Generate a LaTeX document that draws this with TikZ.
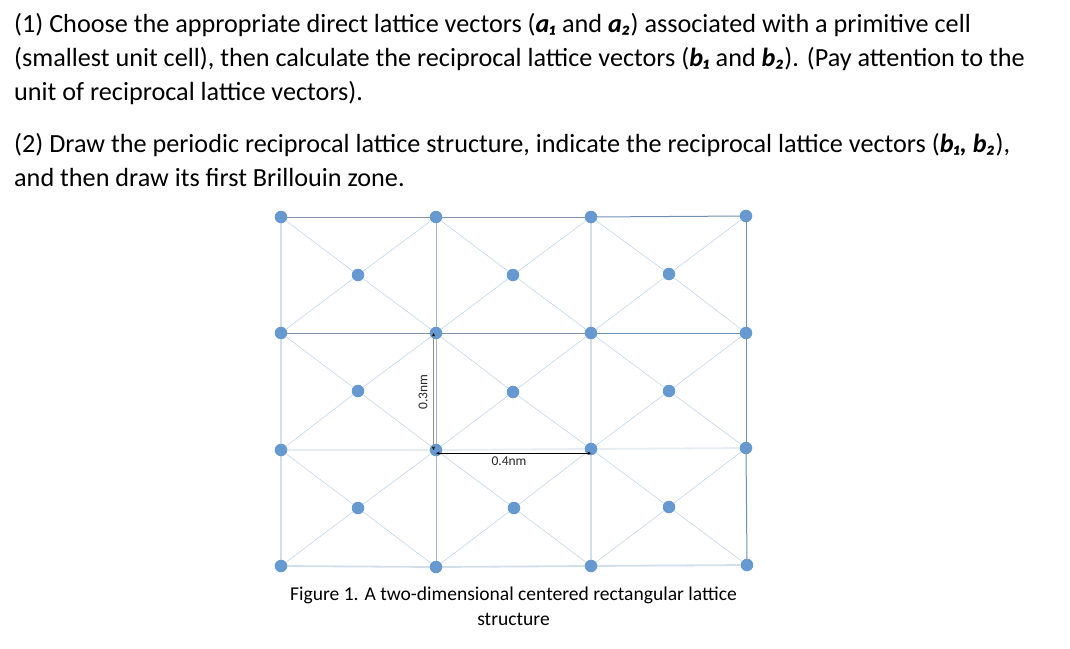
\documentclass[tikz,border=0pt]{standalone}
\usepackage{fontspec}
\setmainfont{Carlito}
\usetikzlibrary{arrows.meta}
\definecolor{dotblue}{HTML}{6699CF}
\definecolor{darkline}{HTML}{7F95AE}
\definecolor{rimline}{HTML}{6F8FB3}
\definecolor{midline}{HTML}{A3B8D0}
\definecolor{paleline}{HTML}{D3DEEB}
\definecolor{faintline}{HTML}{E7ECF3}
\definecolor{crossline}{HTML}{C3D5E9}
\tikzset{
  dot/.style={circle, fill=dotblue, inner sep=0pt, minimum size=12.5pt},
  dark/.style={darkline, line width=1pt},
  rim/.style={rimline, line width=1pt},
  mid/.style={midline, line width=1pt},
  pale/.style={paleline, line width=1.8pt},
  faint/.style={faintline, line width=1.8pt},
  cross/.style={crossline, line width=0.6pt},
  dim/.style={black, line width=0.7pt, {Stealth[length=3.5pt,width=3pt,black]}-{Stealth[length=3.5pt,width=3pt,black]}},
  para/.style={anchor=north west, inner sep=0pt, align=left, font=\fontsize{26.2}{34}\selectfont},
  small/.style={inner sep=0pt, font=\fontsize{13.5}{14}\selectfont, text=black!85},
  caption/.style={inner sep=0pt, align=center, font=\fontsize{19.55}{25}\selectfont}
}
\begin{document}
\begin{tikzpicture}[x=1pt, y=-1pt]
    \useasboundingbox (0,0) rectangle (1070,648);

    \node (t1) at (14,13.5) [para] {(1) Choose the appropriate direct lattice vectors (\textbf{\textit{a₁}} and \textbf{\textit{a₂}}) associated with a primitive cell\\(smallest unit cell), then calculate the reciprocal lattice vectors (\textbf{\textit{b₁}} and \textbf{\textit{b₂}}). (Pay attention to the\\unit of reciprocal lattice vectors).};
    \node (t2) at (14,133.5) [para] {(2) Draw the periodic reciprocal lattice structure, indicate the reciprocal lattice vectors (\textbf{\textit{b₁, b₂}}),\\and then draw its first Brillouin zone.};

    % corner points, row by row
    \coordinate (a1) at (281,217);
    \coordinate (a2) at (436,217);
    \coordinate (a3) at (591,217);
    \coordinate (a4) at (746,216);

    \coordinate (b1) at (281,333);
    \coordinate (b2) at (436,333);
    \coordinate (b3) at (591,333);
    \coordinate (b4) at (746,333);

    \coordinate (c1) at (281,450);
    \coordinate (c2) at (436,450);
    \coordinate (c3) at (591,449);
    \coordinate (c4) at (746,448);

    \coordinate (d1) at (281,566);
    \coordinate (d2) at (436,567);
    \coordinate (d3) at (591,566);
    \coordinate (d4) at (747,565);

    % rows
    \draw[dark] (a1) -- (a2);
    \draw[dark] (a2) -- (a3);
    \draw[rim] (a3) -- (a4);
    \draw[dark] (b1) -- (b2);
    \draw[dark] (b2) -- (b3);
    \draw[rim] (b3) -- (b4);
    \draw[faint] (c1) -- (c2);
    \draw[faint] (c2) -- (c3);
    \draw[faint] (c3) -- (c4);
    \draw[pale] (d1) -- (d2);
    \draw[pale] (d2) -- (d3);
    \draw[pale] (d3) -- (d4);

    % columns
    \draw[pale] (a1) -- (b1);
    \draw[pale] (b1) -- (c1);
    \draw[pale] (c1) -- (d1);
    \draw[mid] (a2) -- (b2);
    \draw[mid] (b2) -- (c2);
    \draw[mid] (c2) -- (d2);
    \draw[pale] (a3) -- (b3);
    \draw[pale] (b3) -- (c3);
    \draw[pale] (c3) -- (d3);
    \draw[rim] (a4) -- (b4);
    \draw[rim] (b4) -- (c4);
    \draw[rim] (c4) -- (d4);

    % centred points
    \node (e1) at (358,275) [dot] {};
    \draw[cross] (e1) -- (a1);
    \draw[cross] (e1) -- (a2);
    \draw[cross] (e1) -- (b1);
    \draw[cross] (e1) -- (b2);

    \node (e2) at (513,275) [dot] {};
    \draw[cross] (e2) -- (a2);
    \draw[cross] (e2) -- (a3);
    \draw[cross] (e2) -- (b2);
    \draw[cross] (e2) -- (b3);

    \node (e3) at (669,274) [dot] {};
    \draw[cross] (e3) -- (a3);
    \draw[cross] (e3) -- (a4);
    \draw[cross] (e3) -- (b3);
    \draw[cross] (e3) -- (b4);

    \node (f1) at (358,391) [dot] {};
    \draw[cross] (f1) -- (b1);
    \draw[cross] (f1) -- (b2);
    \draw[cross] (f1) -- (c1);
    \draw[cross] (f1) -- (c2);

    \node (f2) at (513,392) [dot] {};
    \draw[cross] (f2) -- (b2);
    \draw[cross] (f2) -- (b3);
    \draw[cross] (f2) -- (c2);
    \draw[cross] (f2) -- (c3);

    \node (f3) at (669,391) [dot] {};
    \draw[cross] (f3) -- (b3);
    \draw[cross] (f3) -- (b4);
    \draw[cross] (f3) -- (c3);
    \draw[cross] (f3) -- (c4);

    \node (g1) at (358,508) [dot] {};
    \draw[cross] (g1) -- (c1);
    \draw[cross] (g1) -- (c2);
    \draw[cross] (g1) -- (d1);
    \draw[cross] (g1) -- (d2);

    \node (g2) at (514,508) [dot] {};
    \draw[cross] (g2) -- (c2);
    \draw[cross] (g2) -- (c3);
    \draw[cross] (g2) -- (d2);
    \draw[cross] (g2) -- (d3);

    \node (g3) at (669,507) [dot] {};
    \draw[cross] (g3) -- (c3);
    \draw[cross] (g3) -- (c4);
    \draw[cross] (g3) -- (d3);
    \draw[cross] (g3) -- (d4);

    % lattice points on top of the lines
    \node (na1) at (a1) [dot] {};
    \node (na2) at (a2) [dot] {};
    \node (na3) at (a3) [dot] {};
    \node (na4) at (a4) [dot] {};
    \node (nb1) at (b1) [dot] {};
    \node (nb2) at (b2) [dot] {};
    \node (nb3) at (b3) [dot] {};
    \node (nb4) at (b4) [dot] {};
    \node (nc1) at (c1) [dot] {};
    \node (nc2) at (c2) [dot] {};
    \node (nc3) at (c3) [dot] {};
    \node (nc4) at (c4) [dot] {};
    \node (nd1) at (d1) [dot] {};
    \node (nd2) at (d2) [dot] {};
    \node (nd3) at (d3) [dot] {};
    \node (nd4) at (d4) [dot] {};

    % the two lengths
    \draw[dim, draw=black!45, line width=1pt] ([xshift=-2.5pt]nb2.center) -- ([xshift=-2.5pt]nc2.center);
    \draw[dim] ([yshift=-3.2pt]nc2.center) -- ([yshift=-4.2pt]nc3.center);
    \node (lv) at (423,392) [small, rotate=90] {0.3nm};
    \node (lh) at (509,461) [small] {0.4nm};

    \node (cap) at (513.5,606) [caption] {Figure 1. A two-dimensional centered rectangular lattice\\structure};
\end{tikzpicture}
\end{document}
